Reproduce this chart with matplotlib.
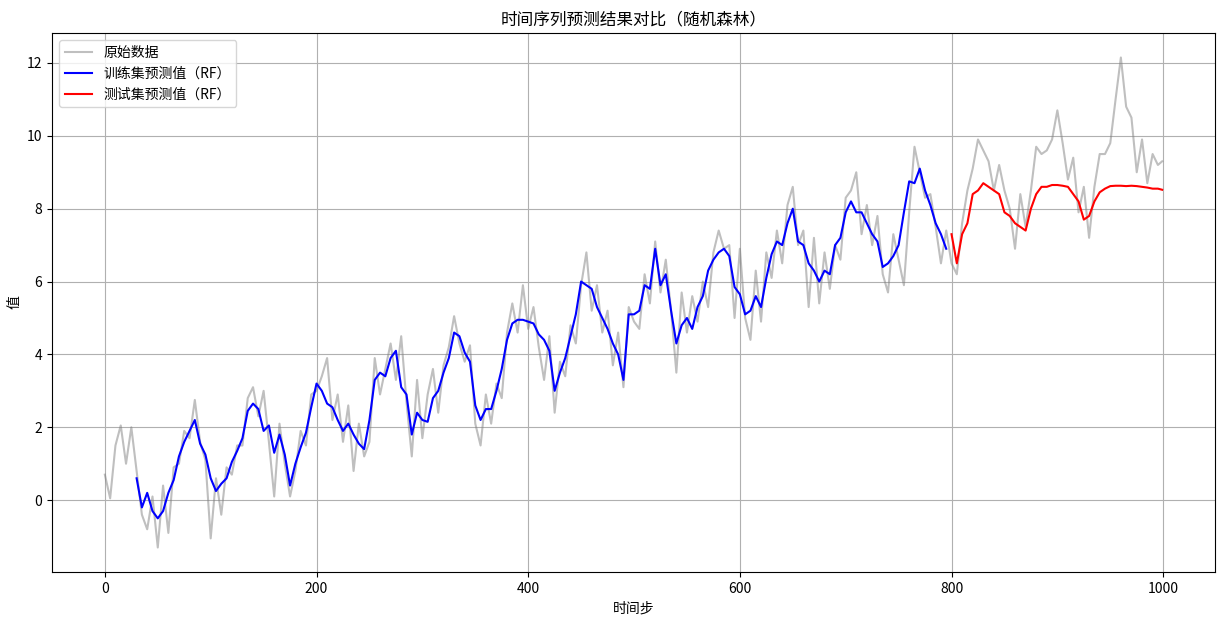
import matplotlib
matplotlib.use('Agg')
import matplotlib.pyplot as plt

plt.rcParams['font.family'] = ['Noto Sans CJK SC', 'DejaVu Sans']
plt.rcParams['axes.unicode_minus'] = False

# original series, read every 5 steps (last point at 999)
raw_steps = list(range(0, 1000, 5)) + [999]
raw_values = [
    0.7, 0.05, 1.5, 2.05, 1.0, 2.0, 0.8, -0.4, -0.8, 0.1,
    -1.3, 0.4, -0.9, 0.9, 1.0, 1.9, 1.7, 2.75, 1.6, 1.1,
    -1.05, 0.6, -0.4, 0.9, 0.7, 1.5, 1.5, 2.8, 3.1, 2.3,
    3.0, 1.6, 0.1, 2.1, 1.0, 0.1, 0.8, 1.9, 1.5, 2.9,
    3.0, 3.4, 3.9, 2.2, 2.9, 1.6, 2.6, 0.8, 2.1, 1.2,
    1.6, 3.9, 2.9, 3.6, 4.3, 3.3, 4.5, 2.7, 1.2, 3.3,
    1.7, 2.9, 3.6, 2.4, 3.7, 4.2, 5.05, 4.3, 3.8, 4.25,
    2.1, 1.5, 2.9, 2.1, 3.2, 2.8, 4.6, 5.4, 4.6, 5.9,
    4.7, 5.3, 4.2, 3.3, 4.5, 2.4, 3.8, 3.4, 4.8, 4.3,
    5.9, 6.8, 5.2, 5.9, 4.6, 5.2, 3.7, 4.6, 3.1, 5.3,
    4.9, 4.7, 6.2, 5.4, 7.1, 5.7, 6.6, 5.2, 3.5, 5.7,
    4.6, 5.6, 4.9, 6.0, 5.3, 6.8, 7.4, 6.9, 7.0, 5.0,
    6.9, 5.0, 4.4, 6.3, 4.9, 6.8, 6.1, 7.4, 6.5, 8.1,
    8.6, 7.0, 7.4, 5.3, 7.2, 5.4, 6.8, 5.8, 7.0, 6.6,
    8.3, 8.5, 9.0, 7.3, 8.1, 7.0, 7.8, 6.2, 5.7, 7.3,
    6.6, 5.9, 7.9, 9.7, 9.0, 8.3, 8.4, 7.5, 6.5, 7.4,
    6.5, 6.2, 7.6, 8.5, 9.1, 9.9, 9.6, 9.3, 8.5, 9.2,
    8.5, 8.0, 6.9, 8.4, 7.5, 8.5, 9.7, 9.5, 9.6, 9.9,
    10.7, 9.8, 8.8, 9.4, 7.9, 8.6, 7.2, 8.6, 9.5, 9.5,
    9.8, 11.0, 12.15, 10.8, 10.5, 9.0, 9.9, 8.7, 9.5, 9.2,
    9.3,
]

# random forest prediction on the training part
train_steps = list(range(30, 800, 5))
train_pred = [
    0.6, -0.2, 0.2, -0.3, -0.5, -0.3, 0.2, 0.55, 1.2, 1.6,
    1.9, 2.2, 1.55, 1.25, 0.6, 0.25, 0.45, 0.6, 1.05, 1.35,
    1.7, 2.45, 2.65, 2.5, 1.9, 2.05, 1.3, 1.8, 1.25, 0.4,
    1.0, 1.45, 1.85, 2.55, 3.2, 3.0, 2.65, 2.55, 2.2, 1.9,
    2.1, 1.8, 1.55, 1.4, 2.2, 3.3, 3.5, 3.4, 3.9, 4.1,
    3.1, 2.9, 1.8, 2.4, 2.2, 2.15, 2.8, 3.0, 3.5, 3.9,
    4.6, 4.5, 4.05, 3.8, 2.6, 2.2, 2.5, 2.5, 3.0, 3.6,
    4.4, 4.85, 4.95, 4.95, 4.9, 4.85, 4.55, 4.4, 4.1, 3.0,
    3.5, 3.9, 4.5, 5.1, 6.0, 5.9, 5.8, 5.3, 5.0, 4.7,
    4.3, 4.0, 3.3, 5.1, 5.1, 5.2, 5.9, 5.8, 6.9, 5.9,
    6.2, 5.2, 4.3, 4.8, 5.0, 4.7, 5.3, 5.6, 6.3, 6.6,
    6.8, 6.9, 6.7, 5.85, 5.65, 5.1, 5.2, 5.6, 5.3, 6.1,
    6.75, 7.1, 7.0, 7.6, 8.0, 7.1, 7.0, 6.5, 6.3, 6.0,
    6.3, 6.2, 7.0, 7.2, 7.9, 8.2, 7.9, 7.9, 7.6, 7.3,
    7.1, 6.4, 6.5, 6.7, 7.0, 7.9, 8.75, 8.7, 9.1, 8.5,
    8.1, 7.6, 7.3, 6.9,
]

# random forest prediction on the test part
test_steps = list(range(800, 1000, 5)) + [999]
test_pred = [
    7.3, 6.5, 7.3, 7.6, 8.4, 8.5, 8.7, 8.6, 8.5, 8.4,
    7.9, 7.8, 7.6, 7.5, 7.4, 8.0, 8.4, 8.6, 8.6, 8.65,
    8.65, 8.63, 8.6, 8.4, 8.2, 7.7, 7.8, 8.2, 8.45, 8.55,
    8.62, 8.63, 8.63, 8.62, 8.63, 8.62, 8.6, 8.58, 8.55, 8.55,
    8.52,
]

fig = plt.figure(figsize=(12.23, 6.22), dpi=100)
ax = fig.add_subplot(111)
fig.subplots_adjust(left=52/1223, right=1215/1223, top=1-33/622, bottom=1-572/622)

ax.plot(raw_steps, raw_values, color='gray', alpha=0.5, label='原始数据')
ax.plot(train_steps, train_pred, color='b', label='训练集预测值（RF）')
ax.plot(test_steps, test_pred, color='r', label='测试集预测值（RF）')

ax.set_title('时间序列预测结果对比（随机森林）')
ax.set_xlabel('时间步')
ax.set_ylabel('值')
ax.legend(loc='upper left')
ax.grid(True)

fig.savefig('out.png', dpi=100)
